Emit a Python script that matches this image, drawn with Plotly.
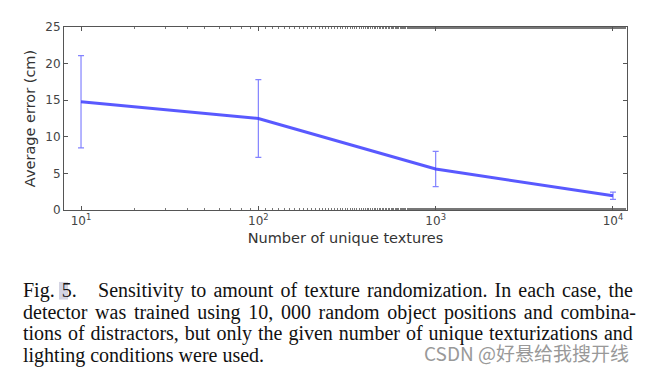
import plotly.graph_objects as go

textures = [10, 100, 1000, 10000]
avg_error = [14.8, 12.5, 5.6, 1.95]
err_std = [6.3, 5.3, 2.4, 0.5]

x_tickvals = [10, 100, 1000, 10000]
x_ticktext = ["10<sup>1</sup>", "10<sup>2</sup>", "10<sup>3</sup>", "10<sup>4</sup>"]
y_tickvals = [0, 5, 10, 15, 20, 25]

caption_lines = [
    "Fig. 5.   Sensitivity to amount of texture randomization. In each case, the",
    "detector was trained using 10, 000 random object positions and combina-",
    "tions of distractors, but only the given number of unique texturizations and",
    "lighting conditions were used.",
]
caption_word_spacing = [2.1, 2.7, 1.0, 0.0]
watermark = "CSDN @好悬给我搜开线"

OFF = 8  # page body margin
W, H = 647 - OFF, 377 - OFF
L, R, T, B = 64 - OFF, 627 - OFF, 23.5 - OFF, 210.5 - OFF

fig = go.Figure()
fig.add_trace(go.Scatter(
    x=textures, y=avg_error, mode="lines",
    line=dict(color="rgba(60,60,255,0.85)", width=3),
    error_y=dict(type="data", array=err_std, visible=True,
                 color="rgba(90,90,255,0.75)", thickness=1.2, width=3),
    showlegend=False,
))

def px(x):
    return (x - OFF - L) / (R - L)

def py(y):
    return (B - (y - OFF)) / (B - T)

axis_common = dict(showline=True, linecolor="#555", linewidth=1, mirror="allticks",
                   ticks="inside", ticklen=4, tickcolor="#555", showgrid=False,
                   zeroline=False, tickfont=dict(family="DejaVu Sans", size=12, color="#444"))

fig.update_xaxes(type="log", range=[0.904, 4.079], tickvals=x_tickvals, ticktext=x_ticktext,
                 minor=dict(ticks="inside", ticklen=2, tickcolor="#777", showgrid=False),
                 title=dict(text="Number of unique textures",
                            font=dict(family="DejaVu Sans", size=14.5, color="#333"), standoff=5),
                 **axis_common)
fig.update_yaxes(range=[0, 25], tickvals=y_tickvals,
                 title=dict(text="Average error (cm)",
                            font=dict(family="DejaVu Sans", size=14.5, color="#333"), standoff=6),
                 **axis_common)

annotations = []
line_y = [293, 315, 337, 359]
for txt, ws, yy in zip(caption_lines, caption_word_spacing, line_y):
    annotations.append(dict(
        text=f'<span style="word-spacing:{ws}px">{txt}</span>',
        xref="paper", yref="paper", x=px(21), y=py(yy),
        xanchor="left", yanchor="middle", showarrow=False,
        font=dict(family="Liberation Serif", size=20, color="#111"),
    ))
annotations.append(dict(
    text=watermark, xref="paper", yref="paper", x=px(631), y=py(356),
    xanchor="right", yanchor="middle", showarrow=False,
    font=dict(family="Noto Sans CJK SC", size=19, color="#999"),
))

fig.add_shape(type="rect", xref="paper", yref="paper",
              x0=px(59), x1=px(68), y0=py(302), y1=py(284),
              fillcolor="rgba(170,170,200,0.5)", line_width=0, layer="below")

fig.update_layout(
    width=W, height=H,
    margin=dict(l=L, r=W - R, t=T, b=H - B, pad=0),
    paper_bgcolor="white", plot_bgcolor="white",
    annotations=annotations,
)

fig.write_html("out.html")
